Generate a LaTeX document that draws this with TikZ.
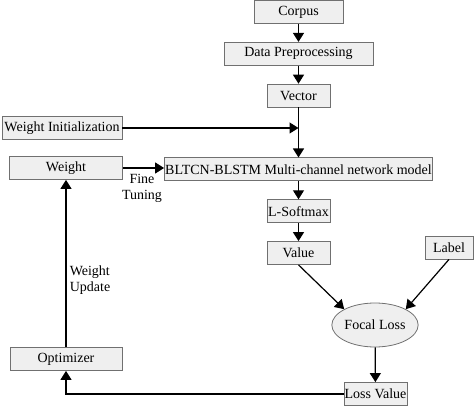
\documentclass[tikz,border=0pt]{standalone}
\usepackage{fontspec}
\setmainfont{Liberation Serif}
\usepackage{tikz}
\usetikzlibrary{arrows.meta,positioning,shapes.geometric}
\definecolor{BoxGray}{HTML}{EFEFEF}
\definecolor{EdgeGray}{HTML}{707070}

\begin{document}
\begin{tikzpicture}[
  box/.style={draw=EdgeGray,fill=BoxGray,line width=0.8pt,inner sep=0.5pt,minimum height=23pt,font=\fontsize{14}{16}\selectfont},
  arr/.style={-{Triangle[length=9pt,width=11pt]},line width=1.2pt},
  note/.style={font=\fontsize{14}{16}\selectfont,align=left}
]
  \useasboundingbox (0,0) rectangle (474pt,-406pt);
  \node[box,minimum width=89pt] (corpus) at (298.5pt,-12pt) {Corpus};
  \node[box,minimum width=149pt,below=18pt of corpus] (prep) {Data Preprocessing};
  \node[box,minimum width=63pt,below=18pt of prep] (vector) {Vector};
  \node[box,minimum width=268pt,below=50pt of vector] (model) {BLTCN-BLSTM Multi-channel network model};
  \node[box,minimum width=63pt,below=18pt of model] (lsoft) {L-Softmax};
  \node[box,minimum width=63pt,below=18pt of lsoft] (value) {Value};
  \node[box,minimum width=48pt] (label) at (449pt,-247.5pt) {Label};
  \node[box,ellipse,inner sep=0pt,minimum width=80pt,minimum height=44pt] (focal) at (375pt,-325pt) {Focal Loss};
  \node[box,minimum width=63pt] (lossv) at (375.5pt,-394pt) {Loss Value};

  \node[box,minimum width=120pt] (winit) at (62pt,-128pt) {Weight Initialization};
  \node[box,minimum width=113pt] (weight) at (66pt,-168pt) {Weight};
  \node[box,minimum width=112pt] (optim) at (66pt,-359pt) {Optimizer};

  \node[note,align=center] (tune) at (142pt,-188pt) {Fine\\Tuning};
  \node[note] (update) at (90pt,-280pt) {Weight\\Update};

  \draw[arr] (corpus) -- (prep);
  \draw[arr] (prep) -- (vector);
  \draw[arr] (vector) -- (model);
  \draw[arr] (winit.east) -- (winit.east -| vector.south);
  \draw[arr] (weight.east) -- (model.west |- weight.east);
  \draw[arr] (model) -- (lsoft);
  \draw[arr] (lsoft) -- (value);
  \draw[arr] (value.south) -- (focal.north west);
  \draw[arr] (label.south) -- (focal.north east);
  \draw[arr] (focal) -- (lossv);
  \draw[arr] (lossv.west) -| (optim.south);
  \draw[arr] (optim.north) -- (weight.south);
\end{tikzpicture}
\end{document}
